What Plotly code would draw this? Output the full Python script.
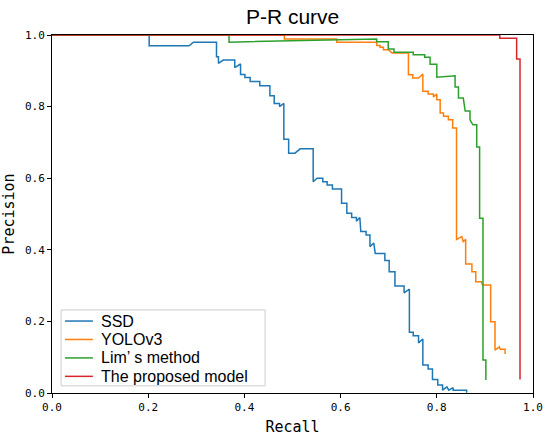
import plotly.graph_objects as go

# P-R curves, values
ssd_recall = [0.0, 0.202, 0.202, 0.285, 0.294, 0.342, 0.342, 0.346, 0.346, 0.356, 0.380, 0.380,
              0.392, 0.392, 0.401, 0.401, 0.412, 0.412, 0.432, 0.432, 0.453, 0.453, 0.462, 0.462,
              0.473, 0.473, 0.482, 0.482, 0.492, 0.492, 0.505, 0.516, 0.543, 0.543, 0.551, 0.563,
              0.563, 0.572, 0.572, 0.583, 0.583, 0.602, 0.602, 0.613, 0.613, 0.623, 0.623, 0.633,
              0.633, 0.640, 0.642, 0.653, 0.653, 0.661, 0.661, 0.669, 0.672, 0.692, 0.692, 0.701,
              0.701, 0.713, 0.713, 0.732, 0.732, 0.743, 0.743, 0.751, 0.751, 0.762, 0.762, 0.771,
              0.771, 0.782, 0.782, 0.791, 0.791, 0.802, 0.802, 0.812, 0.812, 0.821, 0.825, 0.834,
              0.834, 0.862, 0.862]
ssd_precision = [1.0, 1.0, 0.970, 0.970, 0.980, 0.980, 0.939, 0.939, 0.921, 0.930, 0.930, 0.909,
                 0.919, 0.890, 0.890, 0.881, 0.881, 0.870, 0.870, 0.858, 0.858, 0.830, 0.830, 0.809,
                 0.809, 0.800, 0.809, 0.709, 0.709, 0.670, 0.670, 0.682, 0.682, 0.590, 0.600, 0.600,
                 0.590, 0.590, 0.581, 0.581, 0.570, 0.570, 0.530, 0.530, 0.502, 0.502, 0.490, 0.490,
                 0.480, 0.490, 0.451, 0.451, 0.441, 0.441, 0.409, 0.419, 0.390, 0.390, 0.370, 0.370,
                 0.339, 0.339, 0.299, 0.299, 0.280, 0.290, 0.170, 0.170, 0.160, 0.160, 0.140, 0.151,
                 0.078, 0.078, 0.067, 0.067, 0.038, 0.038, 0.022, 0.022, 0.008, 0.017, 0.008, 0.015,
                 0.008, 0.008, 0.001]

yolo_recall = [0.0, 0.483, 0.483, 0.592, 0.592, 0.675, 0.675, 0.682, 0.682, 0.689, 0.689, 0.699,
               0.707, 0.741, 0.741, 0.750, 0.750, 0.762, 0.771, 0.771, 0.782, 0.782, 0.793, 0.793,
               0.800, 0.800, 0.807, 0.807, 0.814, 0.814, 0.824, 0.824, 0.833, 0.833, 0.841, 0.841,
               0.852, 0.855, 0.860, 0.860, 0.873, 0.873, 0.881, 0.881, 0.893, 0.895, 0.912, 0.912,
               0.921, 0.921, 0.930, 0.932, 0.942, 0.942]
yolo_precision = [1.0, 1.0, 0.989, 0.989, 0.980, 0.980, 0.971, 0.971, 0.966, 0.966, 0.959, 0.959,
                  0.950, 0.950, 0.889, 0.889, 0.880, 0.880, 0.891, 0.843, 0.843, 0.835, 0.835, 0.827,
                  0.835, 0.819, 0.819, 0.782, 0.782, 0.773, 0.773, 0.763, 0.763, 0.740, 0.740, 0.429,
                  0.437, 0.423, 0.429, 0.360, 0.360, 0.339, 0.339, 0.311, 0.311, 0.302, 0.302, 0.199,
                  0.199, 0.120, 0.129, 0.122, 0.122, 0.109]

lim_recall = [0.0, 0.368, 0.368, 0.675, 0.675, 0.699, 0.699, 0.711, 0.711, 0.751, 0.751, 0.775,
              0.775, 0.786, 0.786, 0.800, 0.800, 0.838, 0.838, 0.845, 0.845, 0.855, 0.859, 0.869,
              0.869, 0.875, 0.883, 0.883, 0.889, 0.889, 0.896, 0.896, 0.902, 0.902]
lim_precision = [1.0, 1.0, 0.980, 0.989, 0.981, 0.981, 0.961, 0.961, 0.952, 0.952, 0.945, 0.945,
                 0.938, 0.938, 0.918, 0.918, 0.882, 0.886, 0.855, 0.855, 0.824, 0.824, 0.788, 0.788,
                 0.763, 0.749, 0.749, 0.687, 0.687, 0.488, 0.488, 0.092, 0.092, 0.036]

ours_recall = [0.0, 0.931, 0.931, 0.966, 0.966, 0.973, 0.973]
ours_precision = [1.0, 1.0, 0.991, 0.991, 0.933, 0.933, 0.038]

names = ["SSD", "YOLOv3", "Lim’ s method", "The proposed model"]
colors = ["#1f77b4", "#ff7f0e", "#2ca02c", "#d62728"]
tick_vals = [0.0, 0.2, 0.4, 0.6, 0.8, 1.0]
tick_text = ["0.0", "0.2", "0.4", "0.6", "0.8", "1.0"]

curves = [(ssd_recall, ssd_precision), (yolo_recall, yolo_precision),
          (lim_recall, lim_precision), (ours_recall, ours_precision)]

fig = go.Figure()
for (r, p), name, c in zip(curves, names, colors):
    fig.add_trace(go.Scatter(x=r, y=p, mode="lines", name=name, showlegend=False,
                             line=dict(color=c, width=1.5)))

# matplotlib-style legend box in the lower left (plotly's own legend rows are too tall)
box_x0, box_x1, box_y0, box_y1 = 0.019, 0.443, 0.02, 0.232
row_top, row_step = 0.201, 0.0515
fig.add_shape(type="rect", xref="paper", yref="paper",
              x0=box_x0, x1=box_x1, y0=box_y0, y1=box_y1,
              line=dict(color="#cccccc", width=1), fillcolor="rgba(255,255,255,0.8)")
for i, (name, c) in enumerate(zip(names, colors)):
    yy = row_top - i * row_step
    fig.add_shape(type="line", xref="paper", yref="paper",
                  x0=0.027, x1=0.085, y0=yy, y1=yy, line=dict(color=c, width=1.5))
    fig.add_annotation(xref="paper", yref="paper", x=0.097, y=yy, text=name,
                       showarrow=False, xanchor="left", yanchor="middle",
                       font=dict(family="Liberation Sans", size=16, color="black"))

tick_font = dict(family="DejaVu Sans Mono", size=11, color="black")
label_font = dict(family="DejaVu Sans Mono", size=15, color="black")
axis_common = dict(
    range=[0, 1], tickvals=tick_vals, ticktext=tick_text,
    showgrid=False, zeroline=False, automargin=False,
    showline=True, linecolor="black", linewidth=1, mirror=True,
    ticks="outside", ticklen=4, tickcolor="black", tickfont=tick_font,
)

fig.update_xaxes(**axis_common, title=dict(text="Recall", standoff=8, font=label_font))
fig.update_yaxes(**axis_common, title=dict(text="Precision", standoff=8, font=label_font))

fig.update_layout(
    width=550, height=440,
    margin=dict(l=52, r=17, t=35, b=47),
    paper_bgcolor="white", plot_bgcolor="white",
    title=dict(text="P-R curve", x=0.532, xanchor="center", y=0.962, yanchor="middle",
               font=dict(family="Liberation Sans", size=21, color="black")),
)

# page body has a default 8px margin; drop it so the figure sits at the window corner
fig.write_html("out.html", config={"displayModeBar": False},
               post_script="document.body.style.margin='0';")
